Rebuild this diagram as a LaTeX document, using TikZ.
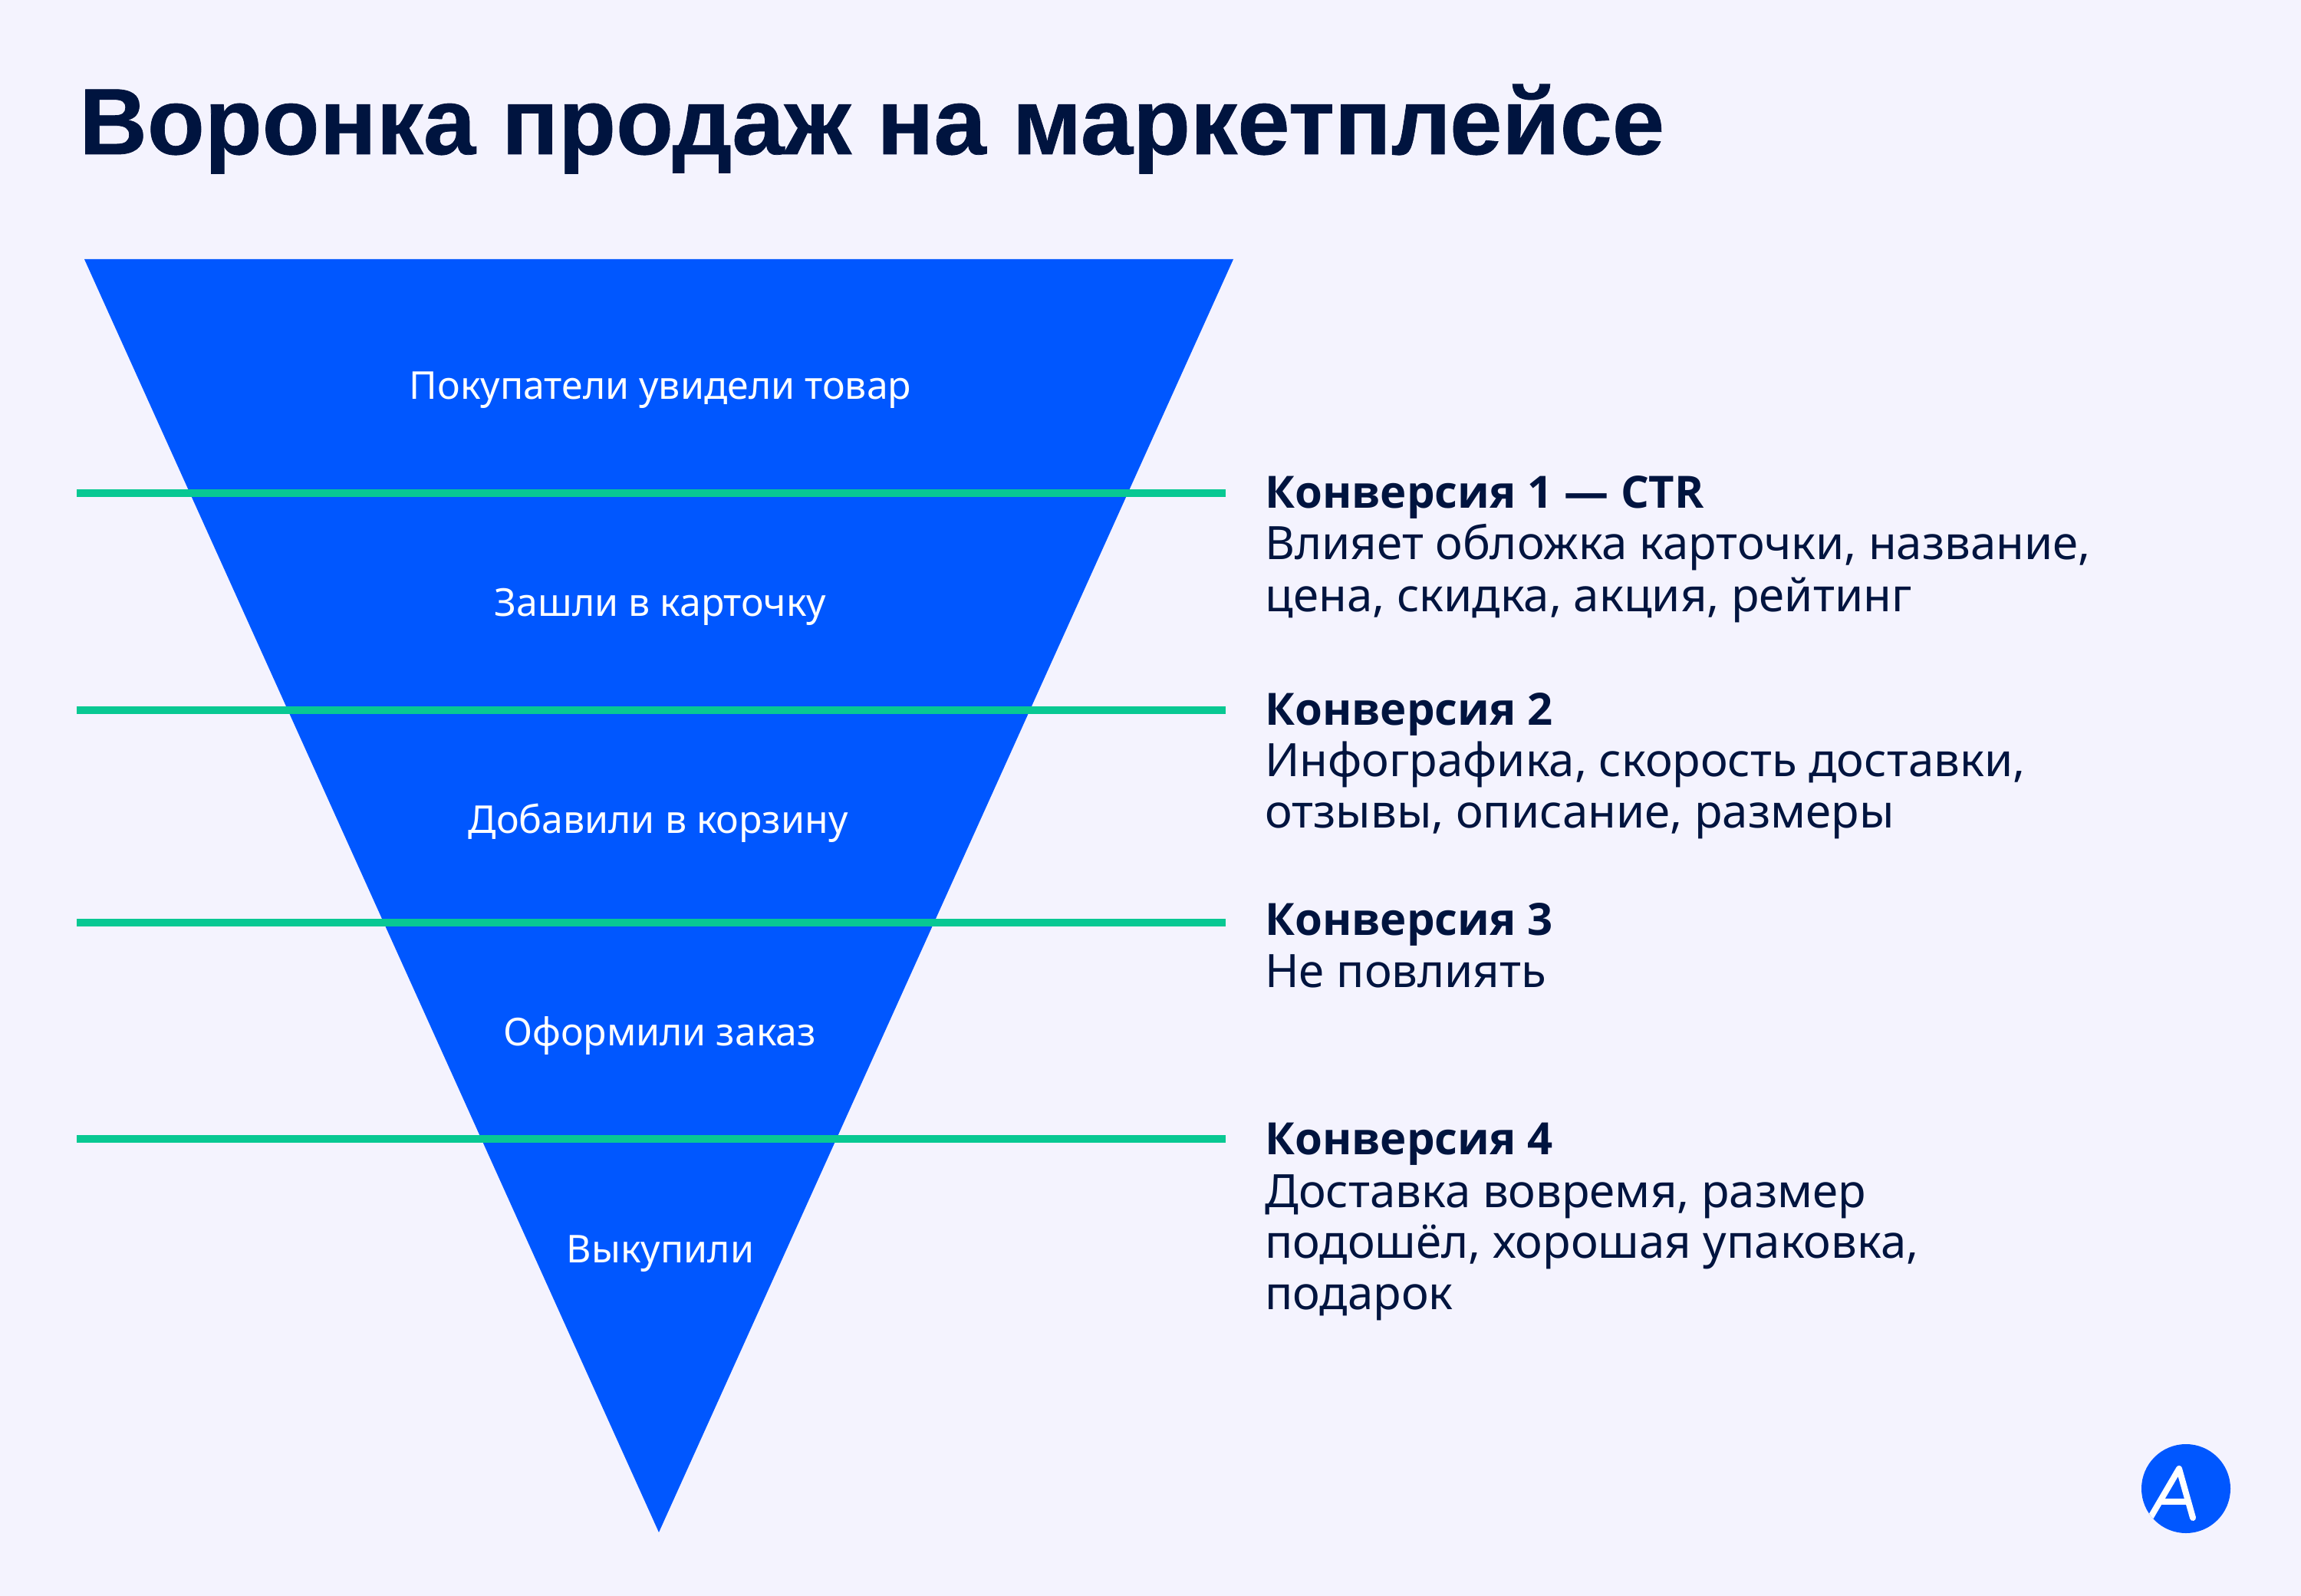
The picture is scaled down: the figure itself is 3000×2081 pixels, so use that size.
\documentclass[tikz,border=0pt]{standalone}
\usepackage{fontspec}
\setmainfont{Noto Sans}
\newfontfamily\titlefont[FakeBold=0.6]{Liberation Sans Bold}
\newfontfamily\headfont{Open Sans}
\definecolor{bgc}{HTML}{F4F3FE}
\definecolor{bluec}{HTML}{0057FF}
\definecolor{greenc}{HTML}{08C893}
\definecolor{navyc}{HTML}{00143F}
\tikzset{
 x=0.5pt,y=-0.5pt,
 funneltext/.style={text=white,font=\fontsize{25}{30}\selectfont,inner sep=0,anchor=base},
 headtext/.style={text=navyc,font=\fontsize{29}{34}\headfont\bfseries,inner sep=0,anchor=base west},
 bodytext/.style={text=navyc,font=\fontsize{30}{34}\selectfont,inner sep=0,anchor=base west},
 titletext/.style={text=navyc,font=\fontsize{61.3}{70}\titlefont,inner sep=0,anchor=base west},
 convline/.style={draw=greenc,line width=5pt},
}
\begin{document}
\begin{tikzpicture}
\fill[bgc] (0,0) rectangle (3000,2081);
\useasboundingbox (0,0) rectangle (3000,2081);
\node[titletext] (title) at (103,201) {Воронка продаж на маркетплейсе};
\coordinate (fa) at (110,338);
\coordinate (fb) at (1608,338);
\coordinate (fc) at (859,1998);
\fill[bluec] (fa) -- (fb) -- (fc) -- cycle;
\foreach \y/\n in {643/a,926/b,1203/c,1485/d}{
 \coordinate (l\n) at (100,\y);
 \coordinate (r\n) at (1598,\y);
 \draw[convline] (l\n) -- (r\n);
}
\node[funneltext] (f1) at (861,521) {Покупатели увидели товар};
\node[funneltext] (f2) at (861,803) {Зашли в карточку};
\node[funneltext] (f3) at (858,1086) {Добавили в корзину};
\node[funneltext] (f4) at (860,1363) {Оформили заказ};
\node[funneltext] (f5) at (861,1646) {Выкупили};
\node[headtext] (h1) at (1649,662) {Конверсия 1 — CTR};
\node[bodytext] (b11) at (1649,729) {Влияет обложка карточки, название,};
\node[bodytext] (b12) at (1649,797) {цена, скидка, акция, рейтинг};
\node[headtext] (h2) at (1649,945) {Конверсия 2};
\node[bodytext] (b21) at (1649,1012) {Инфографика, скорость доставки,};
\node[bodytext] (b22) at (1649,1079) {отзывы, описание, размеры};
\node[headtext] (h3) at (1649,1219) {Конверсия 3};
\node[bodytext] (b31) at (1649,1287) {Не повлиять};
\node[headtext] (h4) at (1649,1505) {Конверсия 4};
\node[bodytext] (b41) at (1649,1574) {Доставка вовремя, размер};
\node[bodytext] (b42) at (1649,1640) {подошёл, хорошая упаковка,};
\node[bodytext] (b43) at (1649,1707) {подарок};
% logo
\coordinate (lc) at (2850,1941);
\fill[bluec] (lc) circle[radius=29pt];
\begin{scope}
\clip (lc) circle[radius=29pt];
\draw[white,line width=4pt,line cap=round,line join=round] (2800,1985) -- (2841,1915) -- (2859,1979);
\draw[white,line width=4pt] (2815,1958) -- (2851,1958);
\end{scope}
\end{tikzpicture}
\end{document}
